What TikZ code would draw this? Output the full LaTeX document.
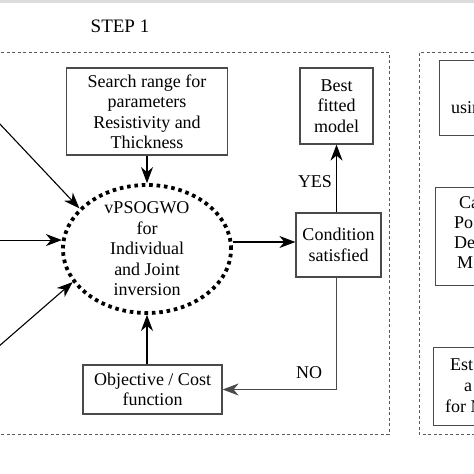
\documentclass[tikz,border=0pt]{standalone}
\usepackage{fontspec}
\setmainfont{Liberation Serif}
\usetikzlibrary{arrows.meta,shapes.geometric}
\definecolor{boxgray}{HTML}{4A4A4A}
\definecolor{framegray}{HTML}{5A5A5A}
\definecolor{bandgray}{HTML}{DCDCDC}
\begin{document}
\begin{tikzpicture}[x=1pt,y=-1pt,
  box/.style={draw=boxgray, line width=1.2pt, fill=white, inner sep=0pt},
  txt/.style={font=\fontsize{18}{20.5}\selectfont, align=center, inner sep=0pt},
  arr/.style={-{Stealth[length=16pt,width=12pt,inset=5pt]}, line width=1.1pt, black},
  frame/.style={draw=framegray, line width=1pt, dash pattern=on 3pt off 2.5pt},
  ell/.style={ellipse, draw=black, line width=3.8pt, dash pattern=on 3.6pt off 3.8pt,
              minimum width=168pt, minimum height=128pt, inner sep=0pt},
]
\useasboundingbox (0,0) rectangle (474,474);
\clip (0,0) rectangle (474,474);
\fill[white] (0,0) rectangle (474,474);
\fill[bandgray] (0,0) rectangle (474,2.5);

% frames
\draw[frame] (-10,52) -- (389,52) -- (389,434) -- (-10,434);
\draw[frame] (490,52) -- (419,52) -- (419,434) -- (490,434);

% title
\node[txt, anchor=base, font=\fontsize{19}{21}\selectfont] (title) at (120,32) {STEP 1};

% step 1 nodes
\node[box, txt, minimum width=161pt, minimum height=87pt] (search) at (147,111.5)
  {Search range for\\parameters\\Resistivity and\\Thickness};
\node[box, txt, minimum width=73pt, minimum height=76pt] (best) at (336.5,106)
  {Best\\fitted\\model};
\node[box, txt, minimum width=85pt, minimum height=64pt] (cond) at (338.5,245)
  {Condition\\satisfied};
\node[box, txt, minimum width=139pt, minimum height=49pt] (obj) at (152.5,389.5)
  {Objective / Cost\\function};
\node[ell] (alg) at (147,249) {};
\node[txt] (algtext) at (alg.center) {vPSOGWO\\for\\Individual\\and Joint\\inversion};

% left inputs
\coordinate (in1) at (-2,122);
\coordinate (in2) at (-5,0);
\coordinate (in3) at (-2,347);
\draw[arr] (in1) -- (alg.149);
\draw[arr] (alg.174 -| in2) -- (alg.174);
\draw[arr] (in3) -- (alg.204);

% connectors
\draw[arr] (search.south) -- (alg.north);
\draw[arr] (alg.south |- obj.north) -- (alg.south);
\draw[arr] ([yshift=3pt]cond.west -| alg.east) -- ([yshift=3pt]cond.west);
\draw[arr] (best.south |- cond.north) -- (best.south);
\draw[arr, line width=1.2pt, draw=boxgray] (best.south |- cond.south) |- (obj.east);
\node[txt] (yes) at (315,182) {YES};
\node[txt] (no) at (309,373) {NO};

% right panel (cut off at the picture edge, as in the reference)
\node[box, minimum width=100pt, minimum height=75pt, anchor=north west] (r1) at (439,60) {};
\node[txt, anchor=base west] (r1t) at (451,113) {using};
\node[box, minimum width=100pt, minimum height=98pt, anchor=north west] (r2) at (434.5,187) {};
\node[txt, anchor=base west] (r2a) at (459,208) {Ca};
\node[txt, anchor=base west] (r2b) at (454,228) {Po};
\node[txt, anchor=base west] (r2c) at (454,248) {De};
\node[txt, anchor=base west] (r2d) at (457,268) {M};
\node[box, minimum width=100pt, minimum height=78pt, anchor=north west] (r3) at (433,347) {};
\node[txt, anchor=base west] (r3a) at (450,370) {Est};
\node[txt, anchor=base west] (r3b) at (464,391) {a};
\node[txt, anchor=base west] (r3c) at (445,412) {for M};
\end{tikzpicture}
\end{document}
